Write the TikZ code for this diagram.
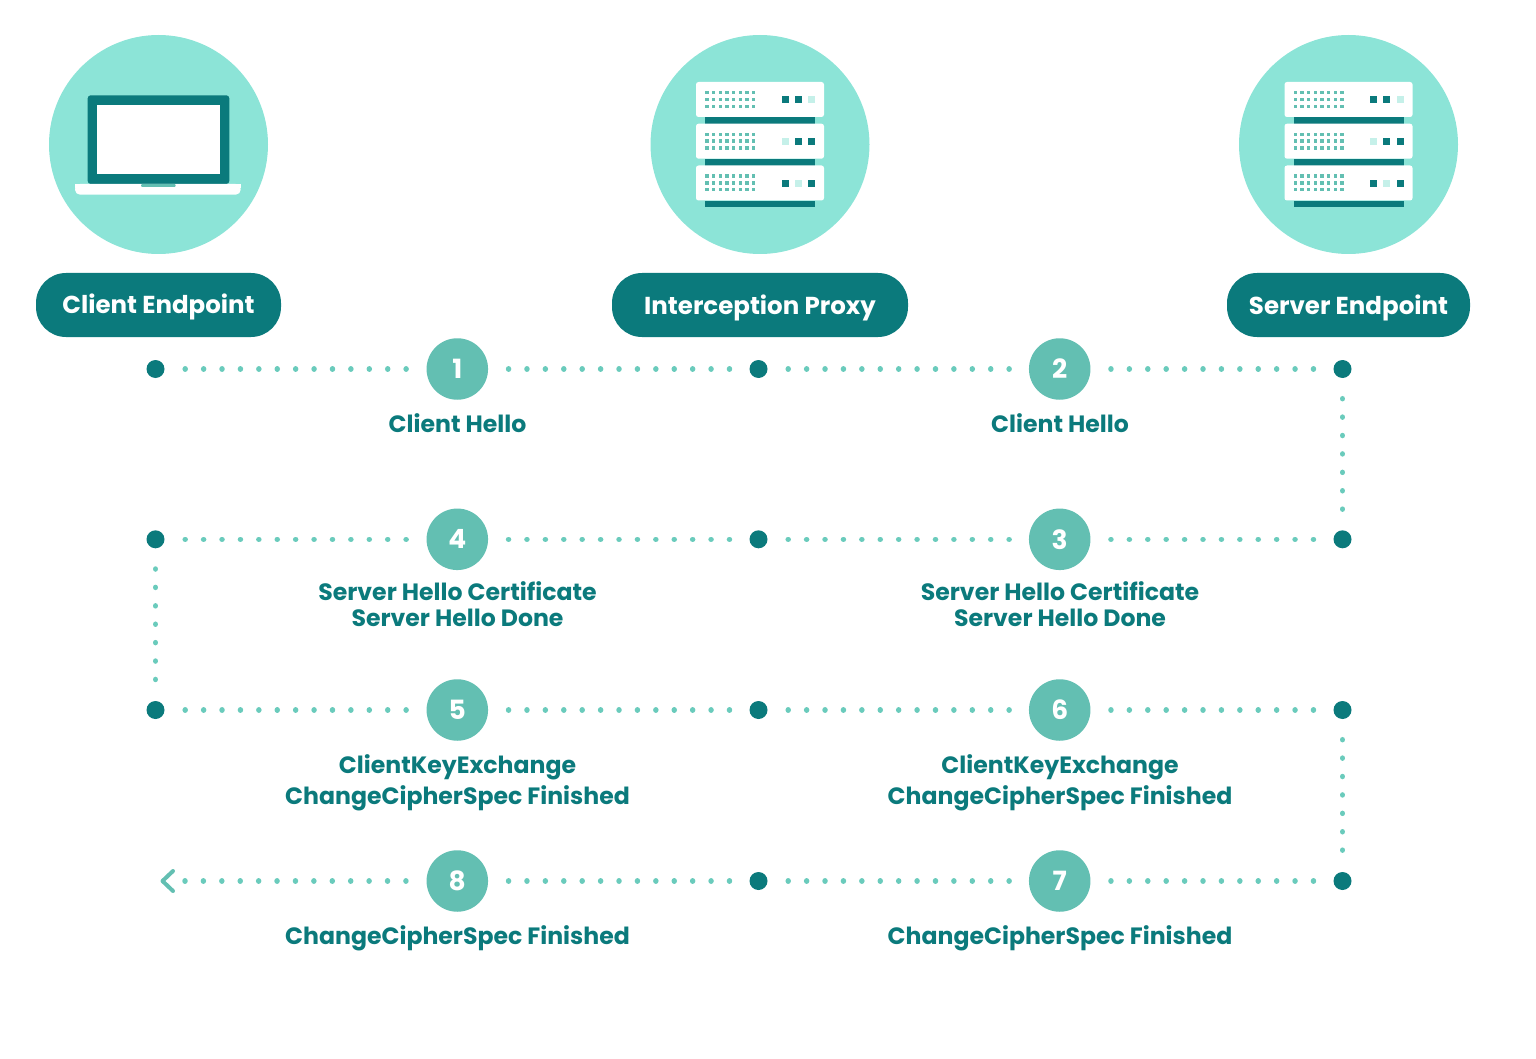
\documentclass[tikz,border=0pt]{standalone}
\usepackage{fontspec}
\setmainfont{Poppins}
\definecolor{dark}{HTML}{0B7A7C}
\definecolor{mint}{HTML}{8CE4D7}
\definecolor{mid}{HTML}{63BFB2}
\definecolor{dotc}{HTML}{6ACBBC}
\definecolor{pale}{HTML}{C5F0E9}
\tikzset{
 badge/.style={circle,fill=mint,minimum size=219pt,inner sep=0pt},
 pill/.style={rounded corners=30pt,fill=dark,text=white,font=\fontsize{24.5}{28}\selectfont\bfseries,inner sep=0pt,minimum height=64pt,text depth=0pt},
 hub/.style={circle,fill=dark,minimum size=18pt,inner sep=0pt},
 num/.style={circle,fill=mid,text=white,minimum size=61.5pt,inner sep=0pt,font=\fontsize{26.5}{30}\selectfont\bfseries},
 lab/.style={text=dark,align=center,inner sep=0pt,font=\fontsize{23.6}{26.2}\selectfont\bfseries},
 labw/.style={lab,font=\fontsize{23.6}{31}\selectfont\bfseries},
 dotted line/.style={dotc,line width=5.5pt,line cap=round,dash pattern=on 0.01pt off 18.4pt},
 fromhub/.style={dotted line,shorten <=20.5pt,shorten >=14pt},
 fromnum/.style={dotted line,shorten <=20.3pt,shorten >=14pt},
 panel/.style={fill=white,rounded corners=2.5pt},
}
\newcommand{\rackpanel}[4]{% y offset, led colours
 \fill[panel] (696,82+#1) rectangle (824,117+#1);
 \fill[dark] (705,117.5+#1) rectangle (815,124+#1);
 \foreach \cc in {0,...,7}\foreach \rr in {0,1,2}
   \fill[mid] (705.2+\cc*6.67,91+#1+\rr*6.8) rectangle ++(3.4,3.4);
 \fill[#2] (781.5,96.2+#1) rectangle ++(7,7);
 \fill[#3] (794.9,96.2+#1) rectangle ++(7,7);
 \fill[#4] (808.4,96.2+#1) rectangle ++(7,7);
}
\newcommand{\serverrack}{%
 \rackpanel{0}{dark}{dark}{pale}
 \rackpanel{41.7}{pale}{dark}{dark}
 \rackpanel{83.5}{dark}{pale}{dark}
}
\begin{document}
\begin{tikzpicture}[x=1pt,y=-1pt]
\useasboundingbox (0,0) rectangle (1536,1059);
% badges
\node[badge] (bc) at (158.5,144.5) {};
\node[badge] (bp) at (760,144.5) {};
\node[badge] (bs) at (1348.5,144.5) {};
% laptop
\fill[dark,rounded corners=3pt] (87.7,184) -- (87.7,95.3) -- (229.3,95.3) -- (229.3,184) -- cycle;
\fill[white] (97,104.7) rectangle (220,174.3);
\fill[white,rounded corners=5pt] (75,184) -- (75,194.7) -- (240.7,194.7) -- (240.7,184) -- cycle;
\fill[white] (75,184) rectangle (240.7,188);
\fill[mid,rounded corners=1pt] (141,184) -- (141,187) -- (175.7,187) -- (175.7,184) -- cycle;
% servers
\serverrack
\begin{scope}[xshift=588.5pt]\serverrack\end{scope}
% pills
\node[pill,minimum width=245pt] (pc) at (158.5,305) {\raisebox{2pt}{Client Endpoint}};
\node[pill,minimum width=296pt] (pp) at (760,305) {Interception Proxy};
\node[pill,minimum width=243pt] (ps) at (1348.5,305) {Server Endpoint};
% hubs
\foreach \n/\y in {a/369,b/539.3,c/710,d/881}{
 \node[hub] (m\n) at (758.5,\y) {};
 \node[hub] (r\n) at (1342.5,\y) {};
}
\node[hub] (la) at (155.5,369) {};
\node[hub] (lb) at (155.5,539.3) {};
\node[hub] (lc) at (155.5,710) {};
\coordinate (ld) at (167,881);
% numbers
\node[num] (n1) at (457.3,369) {1};
\node[num] (n2) at (1059.7,369) {2};
\node[num] (n3) at (1059.7,539.3) {3};
\node[num] (n4) at (457.3,539.3) {4};
\node[num] (n5) at (457.3,710) {5};
\node[num] (n6) at (1059.7,710) {6};
\node[num] (n7) at (1059.7,881) {7};
\node[num] (n8) at (457.3,881) {8};
% connectors
\draw[fromhub] (la) -- (n1);
\draw[fromnum] (n1) -- (ma);
\draw[fromhub] (ma) -- (n2);
\draw[fromnum] (n2) -- (ra);
\draw[fromhub] (ra) -- (rb);
\draw[fromhub] (lb) -- (n4);
\draw[fromnum] (n4) -- (mb);
\draw[fromhub] (mb) -- (n3);
\draw[fromnum] (n3) -- (rb);
\draw[fromhub] (lb) -- (lc);
\draw[fromhub] (lc) -- (n5);
\draw[fromnum] (n5) -- (mc);
\draw[fromhub] (mc) -- (n6);
\draw[fromnum] (n6) -- (rc);
\draw[fromhub] (rc) -- (rd);
\draw[dotted line,shorten <=18pt,shorten >=14pt] (ld) -- (n8);
\draw[fromnum] (n8) -- (md);
\draw[fromhub] (md) -- (n7);
\draw[fromnum] (n7) -- (rd);
% chevron
\draw[mid,line width=4pt,line cap=round,line join=round] ([shift={(6,-10)}]ld) -- ([shift={(-4.5,0)}]ld) -- ([shift={(6,10)}]ld);
% labels
\node[lab] (t1) at (457.5,423.3) {Client Hello};
\node[lab] (t2) at (1060,423.3) {Client Hello};
\node[lab] (t3) at (1060,604.5) {Server Hello Certificate\\Server Hello Done};
\node[lab] (t4) at (457.5,604.5) {Server Hello Certificate\\Server Hello Done};
\node[labw] (t5) at (457.5,783) {ClientKeyExchange\\ChangeCipherSpec Finished};
\node[labw] (t6) at (1060,783) {ClientKeyExchange\\ChangeCipherSpec Finished};
\node[lab] (t7) at (1060,938.5) {ChangeCipherSpec Finished};
\node[lab] (t8) at (457.5,938.5) {ChangeCipherSpec Finished};
\end{tikzpicture}
\end{document}
